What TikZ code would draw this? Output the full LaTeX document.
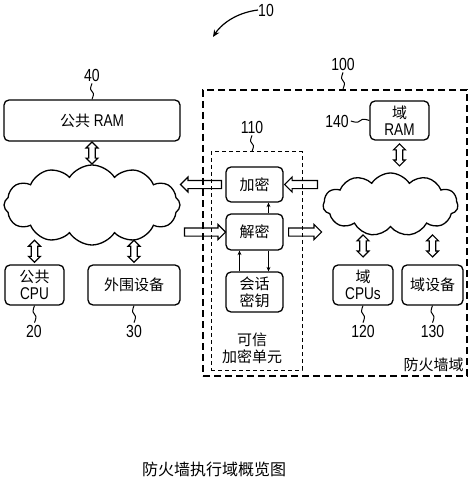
\documentclass[tikz,border=0pt]{standalone}
\usepackage{fontspec}
\setmainfont{Liberation Sans}[FakeStretch=0.8]
\newfontfamily\cjk{Noto Sans CJK SC}
\usetikzlibrary{shapes.symbols,shapes.arrows,arrows.meta,calc}

\tikzset{
  box/.style={draw, rounded corners=5pt, line width=1.3pt, align=center,
    font=\fontsize{17}{17}\selectfont, inner sep=0pt},
  cjkbox/.style={box, font=\cjk\fontsize{15}{17}\selectfont},
  cloudy/.style={draw, cloud, cloud puffs=12, cloud puff arc=115, cloud ignores aspect,
    line width=1.3pt, inner sep=0pt},
  dblarr/.style={draw, double arrow, line width=1.1pt, inner xsep=0pt, inner ysep=2.7pt,
    double arrow head extend=2.7pt, minimum height=22pt, rotate=90},
  blkarr/.style={draw, single arrow, line width=1.1pt, inner xsep=0pt, inner ysep=3.5pt,
    single arrow head extend=3.5pt},
  squig/.style={line width=1pt, to path={.. controls
    ($(\tikztostart)!0.75!(\tikztotarget)!5pt!-90:(\tikztotarget)$) and
    ($(\tikztostart)!0.25!(\tikztotarget)!5pt!90:(\tikztotarget)$) .. (\tikztotarget)}},
  num/.style={font=\fontsize{17.5}{19}\selectfont, inner sep=0pt},
  smallarr/.style={-{Stealth[length=4.5pt,width=4pt]}, line width=1pt},
  fwbox/.style={draw, line width=1.7pt, dash pattern=on 7pt off 4pt},
  tcubox/.style={draw, line width=1pt, dash pattern=on 4pt off 3pt},
}

\begin{document}
\begin{tikzpicture}[x=1pt,y=-1pt]
  \useasboundingbox (0,0) rectangle (474,481);

  % public side
  \node[box, minimum width=176pt, minimum height=41pt] (pubram) at (92,120.5) {{\cjk\fontsize{15}{17}\selectfont 公共} RAM};
  \node[cloudy, minimum width=176pt, minimum height=80pt] (cloudL) at (92,205) {};
  \node[box, minimum width=59pt, minimum height=40pt] (pubcpu) at (34.5,285) {{\cjk\fontsize{15}{17}\selectfont 公共}\\CPU};
  \node[cjkbox, minimum width=92pt, minimum height=40pt] (periph) at (134,285) {外围设备};

  % firewall domain
  \node[fwbox, minimum width=264pt, minimum height=286pt] (fw) at (335,233) {};
  \node[tcubox, minimum width=91pt, minimum height=218pt] (tcu) at (256.5,261) {};
  \node[cjkbox, minimum width=57pt, minimum height=35pt] (enc) at (254.5,184.5) {加密};
  \node[cjkbox, minimum width=57pt, minimum height=36pt] (dec) at (254.5,232) {解密};
  \node[cjkbox, minimum width=57pt, minimum height=40pt] (skey) at (254.5,292) {会话\\密钥};
  \node[box, minimum width=59pt, minimum height=39pt] (domram) at (399.5,120.5) {{\cjk\fontsize{15}{17}\selectfont 域}\\RAM};
  \node[cloudy, cloud puffs=11, minimum width=135pt, minimum height=63pt] (cloudR) at (390.5,204.5) {};
  \node[box, minimum width=60pt, minimum height=40pt] (domcpu) at (363,285) {{\cjk\fontsize{15}{17}\selectfont 域}\\CPUs};
  \node[cjkbox, minimum width=61pt, minimum height=40pt] (domdev) at (432.5,285) {域设备};

  \node[align=center, font=\cjk\fontsize{15}{17}\selectfont] (tcutxt) at (252,348) {可信\\加密单元};
  \node[anchor=south east, inner sep=0pt, font=\cjk\fontsize{15}{17}\selectfont] (fwtxt)
    at ([xshift=-4pt,yshift=5pt]fw.south east) {防火墙域};

  % double arrows
  \path (pubram.south) -- (cloudL.north) node[dblarr, midway] {};
  \path (pubcpu.north) -- (pubcpu.north |- cloudL.south) node[dblarr, pos=0.7] {};
  \path (periph.north) -- (periph.north |- cloudL.south) node[dblarr, pos=0.7] {};
  \path (domram.south) -- (domram.south |- cloudR.north) node[dblarr, pos=0.45] {};
  \path (domcpu.north) -- (domcpu.north |- cloudR.south) node[dblarr, pos=0.5] {};
  \path (domdev.north) -- (domdev.north |- cloudR.south) node[dblarr, pos=0.5] {};

  % block arrows
  \path (enc.west) -- (enc.west -| cloudL.east) node[blkarr, midway, minimum height=41pt, rotate=180] {};
  \path (dec.west -| cloudL.east) -- (dec.west) node[blkarr, midway, minimum height=41pt] {};
  \path (enc.east) -- (enc.east -| cloudR.west) node[blkarr, midway, minimum height=33pt, rotate=180] {};
  \path (dec.east) -- (dec.east -| cloudR.west) node[blkarr, midway, minimum height=33pt] {};

  % inside the crypto unit
  \draw[smallarr] ([xshift=14pt]dec.north) -- ([xshift=14pt]enc.south);
  \draw[smallarr] ([xshift=-15pt]skey.north) -- ([xshift=-15pt]dec.south);
  \draw[smallarr] ([xshift=14pt]dec.south) -- ([xshift=14pt]skey.north);

  % reference numerals
  \node[num] (l10) at (266,10) {10};
  \coordinate (p10) at (213,37);
  \draw[-{Stealth[length=7pt,width=6pt]}, line width=1.2pt] (l10.west) .. controls (234,13) and (220,26) .. (p10);
  \node[num] (l40) at (92,75) {40};
  \draw[squig] ([yshift=-2pt]l40.south) to (l40.south |- pubram.north);
  \node[num] (l100) at (343,64) {100};
  \draw[squig] ([yshift=-2pt]l100.south) to (l100.south |- fw.north);
  \node[num] (l110) at (252,127) {110};
  \draw[squig] ([yshift=-2pt]l110.south) to (l110.south |- tcu.north);
  \node[num] (l140) at (337,121) {140};
  \draw[squig] ([xshift=2pt]l140.east) to (domram.west);
  \node[num] (l20) at (34,331) {20};
  \draw[squig] (pubcpu.south) to ([yshift=2pt]pubcpu.south |- l20.north);
  \node[num] (l30) at (134,331) {30};
  \draw[squig] (periph.south) to ([yshift=2pt]periph.south |- l30.north);
  \node[num] (l120) at (363,331) {120};
  \draw[squig] (domcpu.south) to ([yshift=2pt]domcpu.south |- l120.north);
  \node[num] (l130) at (432.5,331) {130};
  \draw[squig] (domdev.south) to ([yshift=2pt]domdev.south |- l130.north);

  \node[font=\cjk\fontsize{16}{18}\selectfont] (caption) at (214,469) {防火墙执行域概览图};
\end{tikzpicture}
\end{document}
